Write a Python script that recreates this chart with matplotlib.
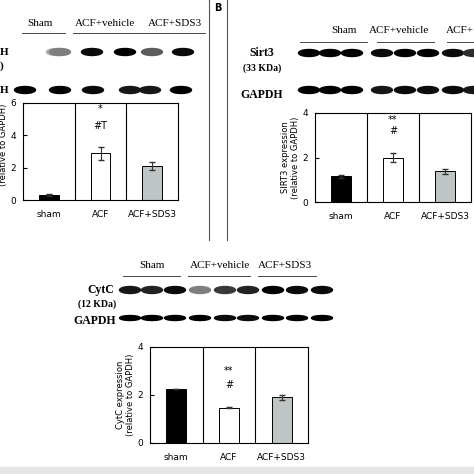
import matplotlib
matplotlib.use('Agg')
import matplotlib.pyplot as plt
from matplotlib.patches import Ellipse

# bar data
groups = ['sham', 'ACF', 'ACF+SDS3']
colors = ['black', 'white', '#bfc5c5']
a_vals = [0.3, 2.9, 2.1]
a_err = [0.05, 0.4, 0.25]
b_vals = [1.15, 2.0, 1.38]
b_err = [0.05, 0.18, 0.1]
c_vals = [2.25, 1.47, 1.9]
c_err = [0.02, 0.02, 0.1]

# blot band intensities (0..1 darkness)
a_top = [0.25, 0.45, 0.95, 1.0, 0.6, 0.95]
a_gapdh = [1.0, 1.0, 0.95, 0.9, 0.9, 1.0]
b_top = [1.0, 1.0, 1.0, 0.95, 1.0, 1.0, 0.95, 0.8]
b_gapdh = [1.0, 1.0, 1.0, 0.9, 0.95, 0.95, 0.95, 0.9]
c_top = [0.9, 0.85, 0.95, 0.45, 0.75, 0.85, 1.0, 0.95, 0.95]
c_gapdh = [1.0, 1.0, 1.0, 1.0, 0.95, 0.95, 1.0, 1.0, 1.0]

W = 474
fig = plt.figure(figsize=(4.74, 4.74), dpi=100)
bg = fig.add_axes([0, 0, 1, 1])
bg.set_xlim(0, W); bg.set_ylim(W, 0); bg.axis('off')
bg.plot([209, 209], [0, 240], color='#555', lw=0.8)
bg.plot([227, 227], [0, 240], color='#555', lw=0.8)
bg.text(218, 8, 'B', fontsize=7, fontweight='bold', ha='center', va='center')
bg.axhspan(467, 474, color='#e6e6e6')

serif = 'Liberation Serif'


def bands(xs, y, dark, w=21, h=7):
    for x, d in zip(xs, dark):
        g = 1 - d
        bg.add_patch(Ellipse((x, y), w, h, color=(g * 0.9, g * 0.9, g * 0.9)))


def headers(items, y_text, y_line):
    for label, x, x0, x1 in items:
        bg.text(x, y_text, label, family=serif, fontsize=8, ha='center', va='center')
        bg.plot([x0, x1], [y_line, y_line], color='#444', lw=0.7)


def bar_panel(px, py, pw, ph, vals, errs, ymax, ticks, ylabel, marks):
    ax = fig.add_axes([px / W, 1 - (py + ph) / W, pw / W, ph / W])
    x = range(len(groups))
    ax.bar(x, vals, width=0.38, color=colors, edgecolor='black', lw=0.7,
           yerr=errs, error_kw=dict(ecolor='#333', capsize=2, elinewidth=0.8))
    ax.set_xlim(-0.5, 2.5)
    ax.set_ylim(0, ymax)
    ax.set_yticks(ticks)
    ax.axvline(0.5, color='black', lw=0.8)
    ax.axvline(1.5, color='black', lw=0.8)
    ax.set_xticks(list(x))
    ax.set_xticklabels(groups, fontsize=6.5)
    ax.tick_params(axis='x', length=0, pad=7)
    ax.tick_params(axis='y', labelsize=6.5, length=3, direction='in', pad=5)
    for s in ax.spines.values():
        s.set_linewidth(0.8)
    if ylabel:
        ax.set_ylabel(ylabel, fontsize=6, linespacing=1.1, labelpad=2)
    for txt, yv in marks:
        ax.text(1, yv, txt, ha='center', va='center', fontsize=7)
    return ax


# panel A
headers([('Sham', 40, 22, 65), ('ACF+vehicle', 105, 73, 137), ('ACF+SDS3', 175, 138, 205)], 23, 33)
bands([57, 60, 92, 125, 152, 183], 52, a_top)
bands([25, 60, 93, 130, 150, 181], 90, a_gapdh)
bg.text(0, 52, 'H', family=serif, fontsize=8, fontweight='bold', va='center')
bg.text(0, 66, ')', family=serif, fontsize=8, fontweight='bold', va='center')
bg.text(0, 90, 'H', family=serif, fontsize=8, fontweight='bold', va='center')
bar_panel(23, 103, 155, 97, a_vals, a_err, 6, [0, 2, 4, 6], '', [('*', 5.6), ('#T', 4.6)])
bg.text(4, 145, '(relative to GAPDH)', rotation=90, fontsize=6, ha='center', va='center')

# panel B
headers([('Sham', 344, 300, 367), ('ACF+vehicle', 399, 377, 434), ('ACF+', 460, 447, 474)], 30, 42)
xs_b = [309, 330, 352, 382, 405, 428, 453, 474]
bands(xs_b, 53, b_top)
bands(xs_b, 90, b_gapdh)
bg.text(262, 53, 'Sirt3', family=serif, fontsize=8.5, fontweight='bold', ha='center', va='center')
bg.text(262, 68, '(33 KDa)', family=serif, fontsize=7, fontweight='bold', ha='center', va='center')
bg.text(262, 95, 'GAPDH', family=serif, fontsize=8.5, fontweight='bold', ha='center', va='center')
bar_panel(315, 113, 156, 89, b_vals, b_err, 4, [0, 2, 4], 'SIRT3 expression\n(relative to GAPDH)',
          [('**', 3.7), ('#', 3.2)])

# panel C
headers([('Sham', 152, 123, 180), ('ACF+vehicle', 220, 188, 250), ('ACF+SDS3', 285, 258, 316)], 265, 276)
xs_c = [130, 152, 175, 200, 225, 248, 273, 297, 322]
bands(xs_c, 290, c_top)
bands(xs_c, 318, c_gapdh, h=5)
bg.text(114, 290, 'CytC', family=serif, fontsize=8.5, fontweight='bold', va='center', ha='right')
bg.text(116, 304, '(12 KDa)', family=serif, fontsize=7, fontweight='bold', va='center', ha='right')
bg.text(116, 321, 'GAPDH', family=serif, fontsize=8.5, fontweight='bold', va='center', ha='right')
bar_panel(150, 347, 158, 96, c_vals, c_err, 4, [0, 2, 4], 'CytC expression\n(relative to GAPDH)',
          [('**', 3.0), ('#', 2.4)])

fig.savefig('out.png', dpi=100)
